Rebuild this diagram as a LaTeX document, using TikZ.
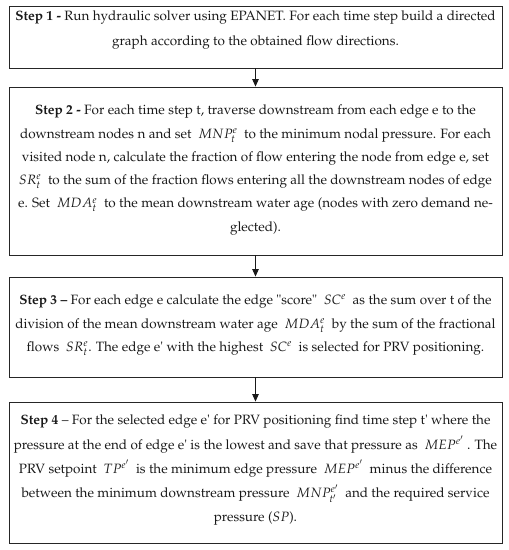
\documentclass[tikz,border=0pt]{standalone}
\usepackage[T1]{fontenc}
\usepackage{textcomp}
\usepackage{mathpazo}
\usetikzlibrary{arrows.meta}
\tikzset{
  stepbox/.style={draw=black!85, line width=0.9pt, rectangle, minimum width=493pt, inner sep=0pt},
  steptext/.style={align=center, inner sep=0pt, text=black!90},
  flowarrow/.style={draw=black!90, line width=0.8pt, -{Triangle[length=7.5pt,width=6.5pt]}}
}
\newcommand{\sq}{\textquotesingle}
\begin{document}
\begin{tikzpicture}[x=1pt,y=-1pt]
\useasboundingbox (0,0) rectangle (509,550);
\node[stepbox, minimum height=62pt] (s1) at (255.5,37) {};
\node[stepbox, minimum height=168pt] (s2) at (255.5,171) {};
\node[stepbox, minimum height=100pt] (s3) at (255.5,327) {};
\node[stepbox, minimum height=141pt] (s4) at (255.5,472.5) {};

\node[steptext, font=\fontsize{13.5}{25}\selectfont] (t1) at (255.5,30.5)
{\textbf{Step 1 -} Run hydraulic solver using EPANET. For each time step build a directed\\
graph according to the obtained flow directions.};

\node[steptext, font=\fontsize{13.5}{23.3}\selectfont] (t2) at (255.5,170)
{\textbf{Step 2 -} For each time step t, traverse downstream from each edge e to the\\
downstream nodes n and set \ $MNP_t^e$ \ to the minimum nodal pressure. For each\\
visited node n, calculate the fraction of flow entering the node from edge e, set\\
$SR_t^e$ \ to the sum of the fraction flows entering all the downstream nodes of edge\\
e. Set \ $MDA_t^e$ \ to the mean downstream water age (nodes with zero demand ne-\\
glected).};

\node[steptext, font=\fontsize{13.5}{23.7}\selectfont] (t3) at (255.5,325.3)
{\textbf{Step 3 --} For each edge e calculate the edge \textquotedbl score\textquotedbl\ \ $SC^e$ \ as the sum over t of the\\
division of the mean downstream water age \ $MDA_t^e$ \ by the sum of the fractional\\
flows \ $SR_t^e$. The edge e\sq{} with the highest \ $SC^e$ \ is selected for PRV positioning.};

\node[steptext, font=\fontsize{13.5}{24.3}\selectfont] (t4) at (255.5,470.4)
{\textbf{Step 4} -- For the selected edge e\sq{} for PRV positioning find time step t\sq{} where the\\
pressure at the end of edge e\sq{} is the lowest and save that pressure as \ $MEP^{e'}$ . The\\
PRV setpoint \ $TP^{e'}$ \ is the minimum edge pressure \ $MEP^{e'}$ \ minus the difference\\
between the minimum downstream pressure \ $MNP_{t'}^{e'}$ \ and the required service\\
pressure ($SP$).};

\draw[flowarrow] (s1.south) -- (s2.north);
\draw[flowarrow] (s2.south) -- (s3.north);
\draw[flowarrow] (s3.south) -- (s4.north);
\end{tikzpicture}
\end{document}
